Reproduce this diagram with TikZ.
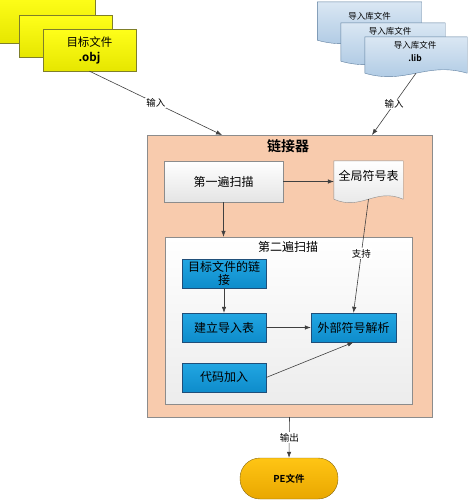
\documentclass[tikz,border=0pt]{standalone}
\usepackage{fontspec}
\setmainfont{Noto Sans CJK SC}[BoldFont={Noto Sans CJK SC Bold}]
\usetikzlibrary{arrows.meta,calc}

\definecolor{objtop}{HTML}{FFFF1A}
\definecolor{objbot}{HTML}{E6E600}
\definecolor{objedge}{HTML}{7F7F2A}
\definecolor{libtop}{HTML}{DAE7F3}
\definecolor{libbot}{HTML}{A9C6E2}
\definecolor{libedge}{HTML}{5F7F9F}
\definecolor{peach}{HTML}{F8CBAD}
\definecolor{grayedge}{HTML}{8C8C8C}
\definecolor{graybot}{HTML}{E4E4E4}
\definecolor{bluetop}{HTML}{22A6E2}
\definecolor{bluebot}{HTML}{0E8CCB}
\definecolor{blueedge}{HTML}{1F4E79}
\definecolor{petop}{HTML}{FFC514}
\definecolor{pebot}{HTML}{E9A700}
\definecolor{peedge}{HTML}{8A6A10}
\definecolor{flowline}{HTML}{404040}

\tikzset{
  objbox/.style={draw=objedge, top color=objtop, bottom color=objbot,
    minimum width=93pt, minimum height=42pt, inner sep=1pt,
    font=\fontsize{11.5}{15}\selectfont},
  libbox/.style={minimum width=104pt, minimum height=38pt, inner sep=0pt},
  libdoc/.style={draw=libedge, top color=libtop, bottom color=libbot},
  libtext/.style={inner sep=1pt, font=\fontsize{8.5}{13}\selectfont},
  linkerbox/.style={draw=grayedge, fill=peach, minimum width=285pt, minimum height=282pt},
  graybox/.style={draw=grayedge, top color=white, bottom color=graybot,
    minimum width=119pt, minimum height=41pt, font=\fontsize{12}{14}\selectfont},
  graydoc/.style={draw=grayedge, top color=white, bottom color=graybot},
  innerbox/.style={draw=grayedge, top color=white, bottom color=graybot!70!white,
    minimum width=247pt, minimum height=167pt},
  plaintext/.style={inner sep=1pt, font=\fontsize{12}{14}\selectfont},
  bluebox/.style={draw=blueedge, top color=bluetop, bottom color=bluebot,
    minimum width=84pt, minimum height=29pt, inner sep=1pt, align=center,
    font=\fontsize{12}{13.5}\selectfont},
  pebox/.style={draw=peedge, top color=petop, bottom color=pebot, rounded corners=20pt,
    minimum width=98pt, minimum height=41pt, font=\fontsize{9.5}{11}\selectfont\bfseries},
  flow/.style={draw=flowline, line width=0.6pt, -{Latex[length=6pt,width=4.5pt]}},
  lbl/.style={fill=white, inner sep=1pt, text=black, font=\fontsize{9.5}{11}\selectfont}
}

% document shape with a wavy bottom round a named node
\newcommand{\wavedoc}[3]{%
  \path[#1] (#2.north west) -- (#2.north east) -- (#2.south east)
    .. controls ($(#2.south east)!0.4!(#2.south west)+(0,-#3)$)
    and ($(#2.south west)!0.4!(#2.south east)+(0,#3)$) .. (#2.south west) -- cycle;}

\begin{document}
\begin{tikzpicture}[x=1pt,y=-1pt]
\useasboundingbox (0,0) rectangle (474,504);

% object files
\node[objbox, minimum width=100pt, minimum height=48pt] (obj1) at (45,19) {};
\node[objbox] (obj2) at (65.5,36) {};
\node[objbox, align=center] (obj3) at (89.5,50) {目标文件\\\textbf{.obj}};

% import libraries
\node[libbox] (lib1) at (369.5,21) {};
\wavedoc{libdoc}{lib1}{12}
\node[libtext] (lib1t) at (369.5,16) {导入库文件};
\node[libbox] (lib2) at (393,42) {};
\wavedoc{libdoc}{lib2}{12}
\node[libtext] (lib2t) at (390,31) {导入库文件};
\node[libbox, minimum width=102pt, minimum height=36pt] (lib3) at (416,55) {};
\wavedoc{libdoc}{lib3}{12}
\node[libtext, align=center] (lib3t) at (415,51) {导入库文件\\\textbf{.lib}};

% linker
\node[linkerbox] (linker) at (289.5,276) {};
\node[plaintext, font=\fontsize{14}{16}\selectfont\bfseries] (linkert) at (288,146) {链接器};
\node[graybox] (scan1) at (223.5,181.5) {第一遍扫描};
\node[libbox, minimum width=69pt] (gst) at (368.5,180) {};
\wavedoc{graydoc}{gst}{12}
\node[plaintext] (gstt) at (368.5,176) {全局符号表};

% second pass
\node[innerbox] (scan2) at (288.5,320.5) {};
\node[plaintext] (scan2t) at (288,247) {第二遍扫描};
\node[bluebox] (objlink) at (224,273.5) {目标文件的链\\接};
\node[bluebox] (imptab) at (224,327.5) {建立导入表};
\node[bluebox] (codeadd) at (224,377.5) {代码加入};
\node[bluebox, minimum width=85pt] (ext) at (353.5,327.5) {外部符号解析};

% output
\node[pebox] (pe) at (289,478.5) {PE文件};

\coordinate (in1) at (222,135);
\coordinate (in2) at (372,135);

\draw[flow] (obj3.south) -- node[lbl] {输入} (in1);
\draw[flow] (lib3.south) -- node[lbl] {输入} (in2);
\draw[flow] (scan1.east) -- (scan1.east -| gst.west);
\draw[flow] (scan1.south) -- (scan1.south |- scan2.north);
\draw[flow] (gst.south) -- node[lbl, pos=0.48] {支持} (ext.north);
\draw[flow] (objlink) -- (imptab);
\draw[flow] (imptab) -- (ext);
\draw[flow] (codeadd.east) -- (ext.south);
\draw[flow] (linker.south) -- node[lbl] {输出} (pe.north);
\end{tikzpicture}
\end{document}
